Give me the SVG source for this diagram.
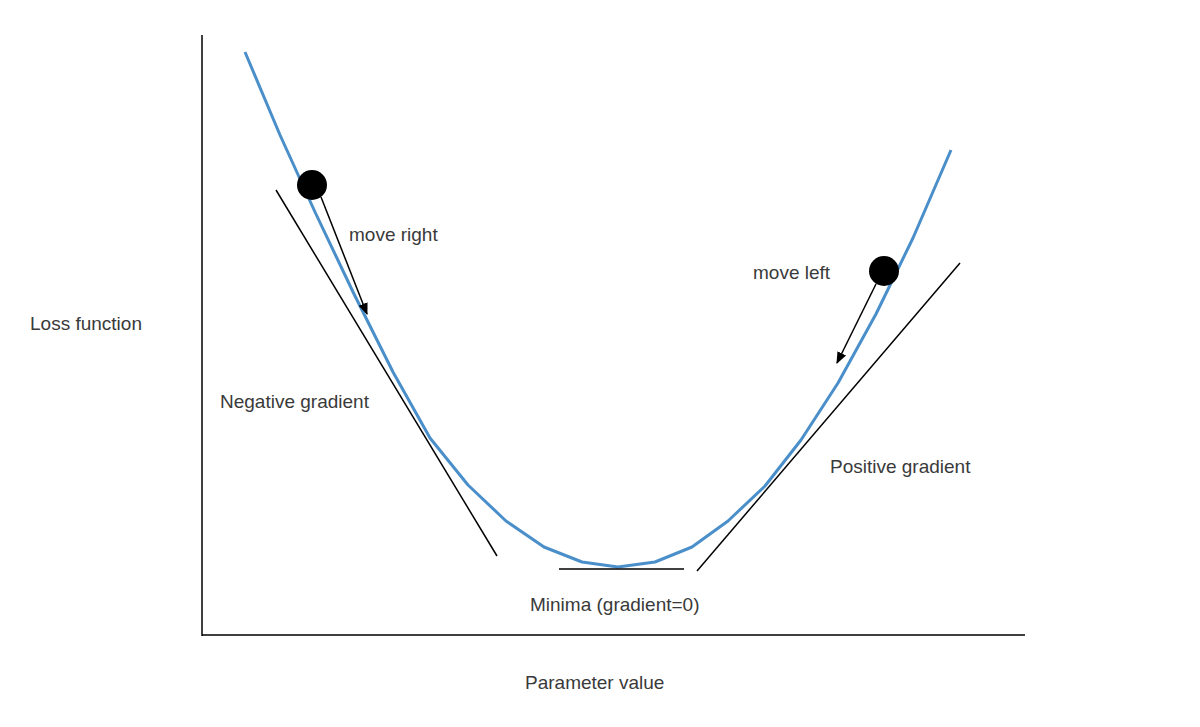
<svg xmlns="http://www.w3.org/2000/svg" width="1200" height="727" viewBox="0 0 1200 727">
<style>
text{font-family:"Helvetica","Liberation Sans",Arial,sans-serif;font-size:19px;fill:#3a3a3a}
.k{stroke:#000;stroke-width:1.5;fill:none}
</style>
<defs><marker id="ah" viewBox="0 0 10 10" refX="9" refY="5" markerWidth="8" markerHeight="8" orient="auto"><path d="M0,1 L10,5 L0,9 z" fill="#000"/></marker></defs>
<rect width="1200" height="727" fill="#fff"/>
<g id="axes"><line class="k" x1="202" y1="35" x2="202" y2="636"/><line class="k" x1="202" y1="635" x2="1025" y2="635"/></g>
<g id="curve"><polyline fill="none" stroke="#4a8fc9" stroke-width="3" stroke-linejoin="round" points="245,52 280,135 315,212 354,294 393,372 430,438 468,485 506,521 544,547 582,562 618,567 655,562 692,547 728,521 765,486 801,440 838,383 876,314 913,238 951,150"/></g>
<g id="connectors">
<line class="k" x1="276" y1="190" x2="497" y2="556"/>
<line class="k" x1="559" y1="569" x2="684" y2="569"/>
<line class="k" x1="697" y1="571" x2="960" y2="263"/>
<line class="k" x1="321" y1="197" x2="367" y2="314" marker-end="url(#ah)"/>
<line class="k" x1="876" y1="284" x2="837" y2="363" marker-end="url(#ah)"/>
</g>
<g id="ball-left"><circle cx="312" cy="185" r="15" fill="#000"/></g>
<g id="ball-right"><circle cx="884" cy="271" r="15" fill="#000"/></g>
<text x="349" y="241">move right</text>
<text x="753" y="279">move left</text>
<text x="30" y="330">Loss function</text>
<text x="220" y="408">Negative gradient</text>
<text x="830" y="473">Positive gradient</text>
<text x="530" y="611">Minima (gradient=0)</text>
<text x="525" y="689">Parameter value</text>
</svg>
